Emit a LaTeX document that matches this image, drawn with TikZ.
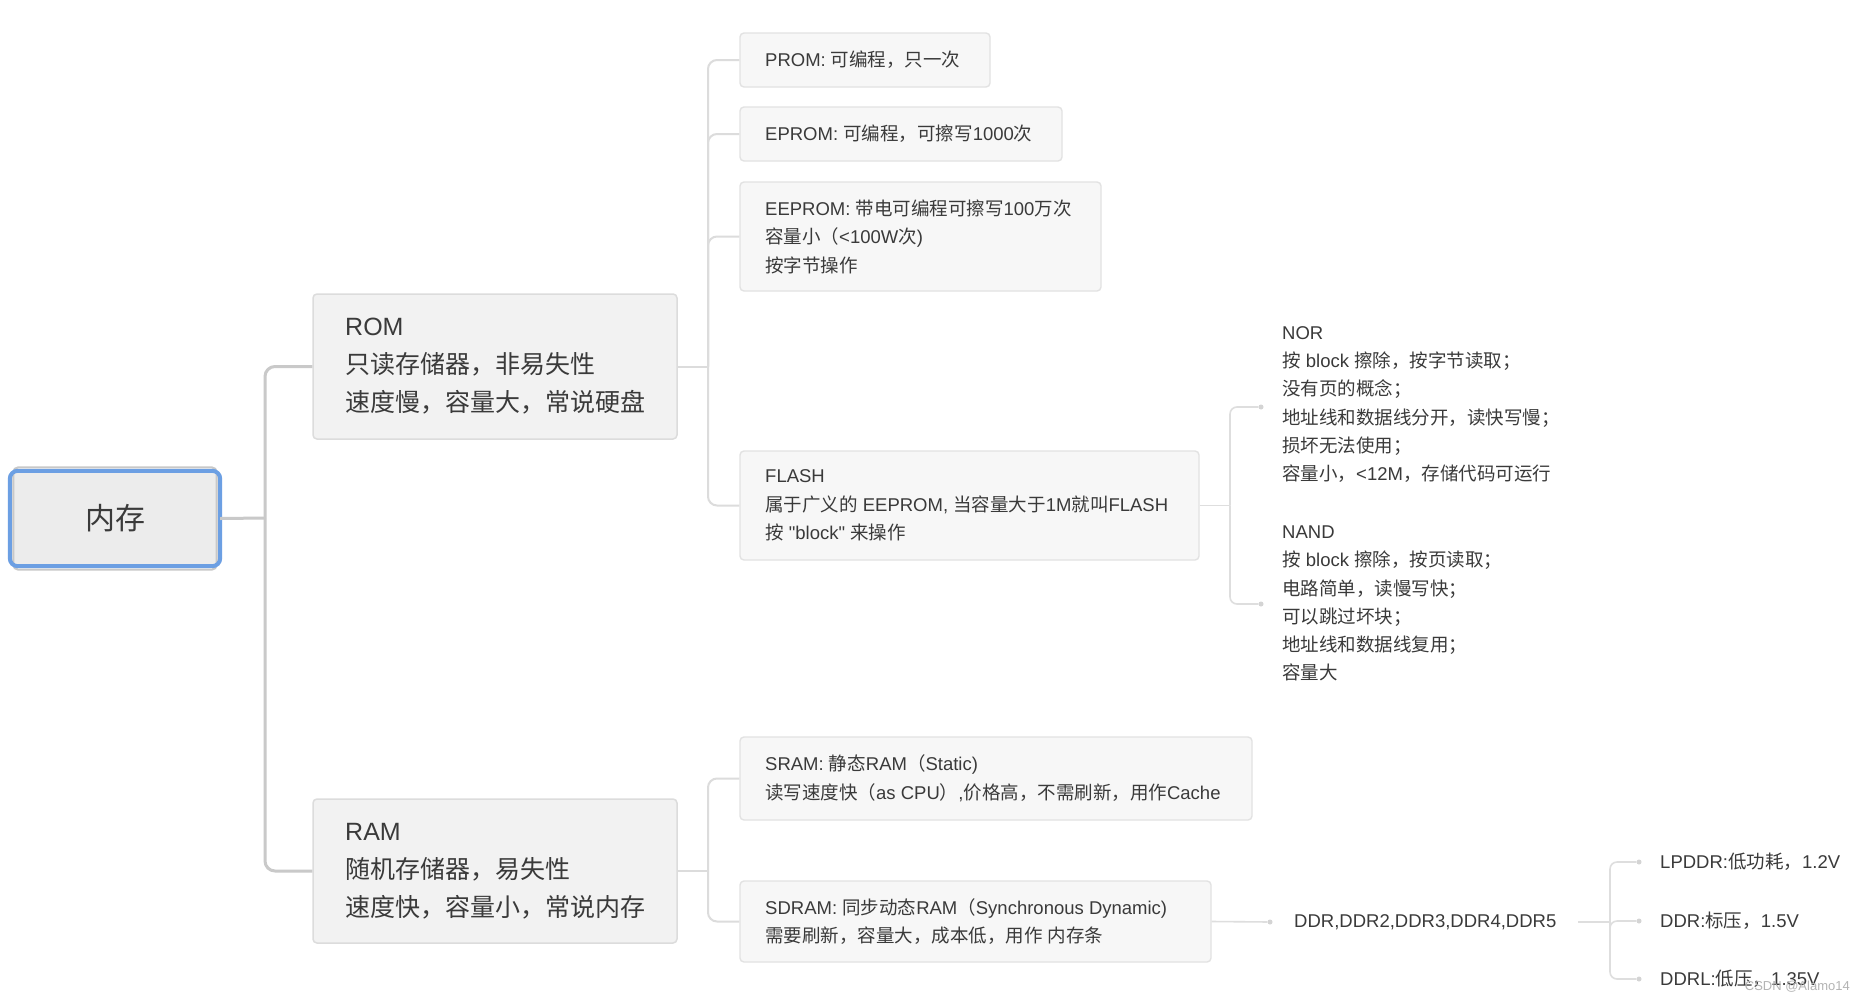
\documentclass[tikz,border=0pt]{standalone}
\usepackage{fontspec}
\usetikzlibrary{fit}
\setmainfont{Liberation Sans}
\newfontfamily\cjkfont{Noto Sans CJK SC}
\newfontfamily\latfont{Liberation Sans}
\XeTeXinterchartokenstate=1
\newXeTeXintercharclass\CJKclass
\newcount\mycnt
\mycnt="3000 \loop \XeTeXcharclass\mycnt=\CJKclass \advance\mycnt by 1 \ifnum\mycnt<"3040 \repeat
\mycnt="4E00 \loop \XeTeXcharclass\mycnt=\CJKclass \advance\mycnt by 1 \ifnum\mycnt<"A000 \repeat
\mycnt="FF00 \loop \XeTeXcharclass\mycnt=\CJKclass \advance\mycnt by 1 \ifnum\mycnt<"FFF0 \repeat
\XeTeXinterchartoks 0 \CJKclass = {\cjkfont}
\XeTeXinterchartoks 4095 \CJKclass = {\cjkfont}
\XeTeXinterchartoks \CJKclass 0 = {\latfont}
\XeTeXinterchartoks \CJKclass 4095 = {\latfont}
\definecolor{trunkc}{HTML}{C9C9C9}
\definecolor{branchc}{HTML}{DCDCDC}
\definecolor{twigc}{HTML}{DEDEDE}
\definecolor{dotc}{HTML}{D4D4D4}
\definecolor{bigborder}{HTML}{DCDCDC}
\definecolor{bigfill}{HTML}{F2F2F2}
\definecolor{cborder}{HTML}{E2E2E2}
\definecolor{cfill}{HTML}{F7F7F7}
\definecolor{rootblue}{HTML}{6C9FE3}
\definecolor{rootgray}{HTML}{C8C8C8}
\definecolor{rootfill}{HTML}{ECECEC}
\definecolor{txtc}{HTML}{3A3A3A}
\definecolor{wmc}{HTML}{B4B4B4}
\tikzset{
  trunk/.style={draw=trunkc, line width=3pt, rounded corners=10pt},
  branch/.style={draw=branchc, line width=2pt, rounded corners=9pt},
  twig/.style={draw=twigc, line width=1.6pt, rounded corners=7pt},
  bigbox/.style={draw=bigborder, fill=bigfill, line width=1.5pt, rounded corners=4pt, inner sep=0pt},
  cbox/.style={draw=cborder, fill=cfill, line width=1.4pt, rounded corners=4pt, inner sep=0pt},
  bigtext/.style={anchor=west, inner sep=0pt, align=left, text=txtc, font=\fontsize{25}{38}\selectfont},
  ctext/.style={anchor=west, inner sep=0pt, align=left, text=txtc, font=\fontsize{18.5}{28.5}\selectfont},
  leaftext/.style={anchor=west, inner sep=0pt, align=left, text=txtc, font=\fontsize{18.5}{28.2}\selectfont},
  enddot/.style={circle, fill=dotc, inner sep=0pt, minimum size=5pt},
}
\begin{document}
\begin{tikzpicture}[x=1pt, y=-1pt]
\useasboundingbox[fill=white] (0,0) rectangle (1865,1001);

% root
\node[fit={(10,471) (220,566)}, inner sep=0pt, fill=rootfill, rounded corners=8pt] (root) {};
\draw[rootgray, line width=2pt, rounded corners=5pt] ([shift={(3.5pt,-3.5pt)}]root.south west) rectangle ([shift={(-3.5pt,3.5pt)}]root.north east);
\draw[rootblue, line width=4pt, rounded corners=8pt] (root.south west) rectangle (root.north east);
\node[text=txtc, font=\fontsize{30}{36}\selectfont, inner sep=0pt] (root-t) at (root.center) {内存};

% level 1
\node[bigbox, fit={(313,294) (677,439)}] (rom) {};
\node[bigtext] (rom-t) at (345,366.5) {ROM\\只读存储器，非易失性\\速度慢，容量大，常说硬盘};
\node[bigbox, fit={(313,799) (677,943)}] (ram) {};
\node[bigtext] (ram-t) at (345,871) {RAM\\随机存储器，易失性\\速度快，容量小，常说内存};

\coordinate (t1) at (265,518);
\draw[trunk] (root.east) -- (t1);
\draw[trunk] (rom.west) -| (t1);
\draw[trunk] (ram.west) -| (t1);

% ROM children
\node[cbox, fit={(740,33) (990,87)}] (prom) {};
\node[ctext] (prom-t) at (765,60) {PROM: 可编程，只一次};
\node[cbox, fit={(740,107) (1062,161)}] (eprom) {};
\node[ctext] (eprom-t) at (765,134) {EPROM: 可编程，可擦写1000次};
\node[cbox, fit={(740,182) (1101,291)}] (eeprom) {};
\node[ctext] (eeprom-t) at (765,236.5) {EEPROM: 带电可编程可擦写100万次\\容量小（<100W次)\\按字节操作};
\node[cbox, fit={(740,451) (1199,560)}] (flash) {};
\node[ctext] (flash-t) at (765,505.5) {FLASH\\属于广义的 EEPROM, 当容量大于1M就叫FLASH\\按 "block" 来操作};

\coordinate (s1) at (708,366.5);
\draw[branch] (rom.east) -- (s1);
\draw[branch] (prom.west) -| (s1);
\draw[branch] (eprom.west) -| (s1);
\draw[branch] (eeprom.west) -| (s1);
\draw[branch] (flash.west) -| (s1);

% FLASH children
\node[leaftext] (nor) at (1282,404.5) {NOR\\按 block 擦除，按字节读取；\\没有页的概念；\\地址线和数据线分开，读快写慢；\\损坏无法使用；\\容量小，<12M，存储代码可运行};
\node[leaftext] (nand) at (1282,603.5) {NAND\\按 block 擦除，按页读取；\\电路简单，读慢写快；\\可以跳过坏块；\\地址线和数据线复用；\\容量大};
\node[enddot] (d-nor) at (1261,407) {};
\node[enddot] (d-nand) at (1261,604) {};
\coordinate (fs) at (1230,505.5);
\draw[twig] (flash.east) -- (fs);
\draw[twig] (d-nor) -| (fs);
\draw[twig] (d-nand) -| (fs);

% RAM children
\node[cbox, fit={(740,737) (1252,820)}] (sram) {};
\node[ctext] (sram-t) at (765,778.5) {SRAM: 静态RAM（Static)\\读写速度快（as CPU）,价格高，不需刷新，用作Cache};
\node[cbox, fit={(740,881) (1211,962)}] (sdram) {};
\node[ctext] (sdram-t) at (765,921.5) {SDRAM: 同步动态RAM（Synchronous Dynamic)\\需要刷新，容量大，成本低，用作 内存条};

\coordinate (s2) at (708,871);
\draw[branch] (ram.east) -- (s2);
\draw[branch] (sram.west) -| (s2);
\draw[branch] (sdram.west) -| (s2);

% DDR
\node[leaftext] (ddr) at (1294,922) {DDR,DDR2,DDR3,DDR4,DDR5};
\node[enddot] (d-ddr) at (1270,922) {};
\draw[twig] (sdram.east) -- (d-ddr);
\coordinate (ds) at (1610,922);
\coordinate (ddr-out) at (1578,922);
\draw[twig] (ddr-out) -- (ds);

\node[leaftext] (lp) at (1660,862) {LPDDR:低功耗，1.2V};
\node[leaftext] (std) at (1660,921) {DDR:标压，1.5V};
\node[leaftext] (ddrl) at (1660,979) {DDRL:低压，1.35V};
\node[enddot] (d-lp) at (1639,862) {};
\node[enddot] (d-std) at (1639,921) {};
\node[enddot] (d-ddrl) at (1639,979) {};
\draw[twig] (d-lp) -| (ds);
\draw[twig] (d-std) -| (ds);
\draw[twig] (d-ddrl) -| (ds);

% watermark
\node[anchor=east, inner sep=0pt, text=wmc, font=\fontsize{13}{15}\selectfont] (wm) at (1850,987) {CSDN @Alamo14};
\end{tikzpicture}
\end{document}
